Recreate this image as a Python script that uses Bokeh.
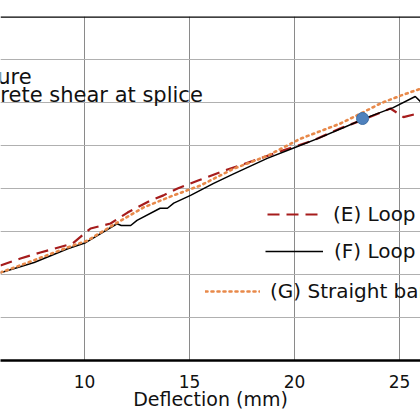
from bokeh.plotting import figure
from bokeh.models import (Range1d, SingleIntervalTicker, Grid, Span, Label,
                          Legend, LegendItem)
from bokeh.embed import file_html
from bokeh.resources import INLINE

FONT = "DejaVu Sans"

# Load-deflection curves of the three splice specimens
deflection_E = [6.0, 6.95, 7.9, 9.43, 10.29, 11.24, 12.05, 13.14, 13.76, 14.43, 15.38,
                16.81, 18.24, 19.43, 20.9, 22.19, 23.38, 24.57, 25.19, 26.0]
load_E = [110.5, 118.6, 125.6, 136.0, 153.5, 159.3, 172.0, 186.0, 192.0, 200.0, 209.0,
          222.0, 234.0, 244.0, 256.0, 270.0, 281.0, 293.0, 283.0, 288.0]

deflection_F = [6.0, 7.6, 9.2, 10.05, 11.55, 11.75, 12.2, 12.5, 13.6, 13.95, 14.25,
                15.05, 16.15, 17.1, 18.7, 20.05, 21.1, 22.35, 23.5, 24.7, 25.75, 26.0]
load_F = [102.0, 114.0, 130.0, 137.0, 159.0, 157.0, 157.0, 163.0, 177.0, 177.0, 183.0,
          192.0, 206.0, 217.0, 235.0, 248.0, 258.0, 271.0, 283.0, 294.0, 307.0, 301.0]

deflection_G = [6.0, 7.57, 9.19, 10.14, 11.57, 12.81, 14.24, 15.52, 17.1, 18.71,
                20.29, 22.19, 23.14, 24.1, 25.05, 26.0]
load_G = [102.3, 116.3, 131.4, 139.5, 160.5, 178.0, 192.0, 203.5, 223.0, 238.0,
          258.0, 275.6, 287.0, 299.0, 308.0, 316.0]

# Concrete shear at splice event
shear_deflection = [23.24]
shear_load = [281.4]

x_tick_interval = 5
y_tick_interval = 50
x_limits = (6.0, 26.0)
y_limits = (0, 400)

x_title = "Deflection (mm)"
series_labels = ["(E) Loop splice", "(F) Loop splice", "(G) Straight bar"]
marker_labels = ["Failure", "Concrete shear at splice"]

p = figure(width=420, height=420, output_backend="svg", toolbar_location=None,
           x_range=Range1d(*x_limits), y_range=Range1d(*y_limits),
           y_axis_location=None, min_border_left=0, min_border_right=0,
           min_border_top=16, min_border_bottom=60)
p.outline_line_color = None
p.background_fill_color = "white"
p.border_fill_color = "white"

# axes and grid
xax = p.xaxis[0]
xax.ticker = SingleIntervalTicker(interval=x_tick_interval)
xax.axis_label = x_title
xax.axis_label_text_font = FONT
xax.axis_label_text_font_size = "19px"
xax.axis_label_text_font_style = "normal"
xax.axis_label_text_color = "#111111"
xax.axis_label_standoff = -3
xax.major_label_text_font = FONT
xax.major_label_text_font_size = "17px"
xax.major_label_text_color = "#111111"
xax.major_label_standoff = 8
xax.major_tick_line_color = None
xax.minor_tick_line_color = None
xax.axis_line_color = "black"
xax.axis_line_width = 2.5

p.xgrid.ticker = SingleIntervalTicker(interval=x_tick_interval)
p.xgrid.grid_line_color = "#8a8a8a"
p.xgrid.grid_line_width = 1
p.add_layout(Grid(dimension=1, ticker=SingleIntervalTicker(interval=y_tick_interval),
                  grid_line_color="#b0b0b0", grid_line_width=1))
p.add_layout(Span(location=y_limits[1], dimension="width",
                  line_color="black", line_width=2.5))

# curves
r_E = p.line(deflection_E, load_E, line_color="#a61c1c", line_width=2.2,
             line_dash="12 7")
r_F = p.line(deflection_F, load_F, line_color="black", line_width=1.5)
r_G = p.line(deflection_G, load_G, line_color="#e8894a", line_width=2.6,
             line_dash="2 4", line_cap="round")
p.scatter(shear_deflection, shear_load, size=12, marker="circle",
          fill_color="#4f81bd", line_color="#3d6ea5", line_width=1)

# marker key text (keys extend past the left edge of the plot area)
p.add_layout(Label(x=4.19, y=329.5, text=marker_labels[0], text_font=FONT,
                   text_font_size="21px", text_color="#111111",
                   text_baseline="alphabetic"))
p.add_layout(Label(x=3.5, y=309.0, text=marker_labels[1], text_font=FONT,
                   text_font_size="21px", text_color="#111111",
                   text_baseline="alphabetic"))


def key(renderer, label, loc, glyph_width, standoff):
    leg = Legend(items=[LegendItem(label=label, renderers=[renderer])],
                 location=loc, orientation="vertical",
                 glyph_width=glyph_width, glyph_height=20, label_height=20,
                 label_standoff=standoff, padding=0, margin=0, spacing=0,
                 border_line_alpha=0, background_fill_alpha=0,
                 label_text_font=FONT, label_text_font_size="20px",
                 label_text_color="#111111")
    p.add_layout(leg, "center")


key(r_E, series_labels[0], (267, 134), 55, 11)
key(r_F, series_labels[1], (265, 97), 58, 11)
key(r_G, series_labels[2], (205, 57), 55, 10)

open("out.html", "w").write(file_html(p, INLINE))
